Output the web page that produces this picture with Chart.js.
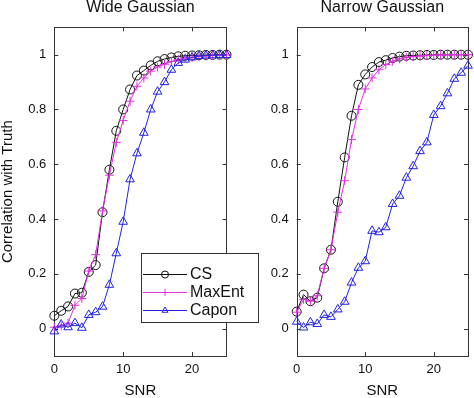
<!DOCTYPE html>
<html>
<head>
<meta charset="utf-8">
<script src="https://cdn.jsdelivr.net/npm/chart.js@4.4.0/dist/chart.umd.min.js"></script>
<style>
    html, body { margin: 0; padding: 0; background: #fff; }
    #wrap { position: relative; width: 474px; height: 398px; overflow: hidden; }
    canvas { position: absolute; top: 0; }
    #wide-chart { left: 0; }
    #narrow-chart { left: 256px; }
</style>
</head>
<body>
<div id="wrap">
    <canvas id="narrow-chart" width="218" height="398"></canvas>
    <canvas id="wide-chart" width="262" height="398"></canvas>
</div>
<script>
// SNR values (x) and axis ticks
const snr = [0, 1, 2, 3, 4, 5, 6, 7, 8, 9, 10, 11, 12, 13, 14, 15, 16, 17, 18, 19, 20, 21, 22, 23, 24, 25];
const xTicks = [0, 10, 20];
const yTicks = [0, 0.2, 0.4, 0.6, 0.8, 1];
const seriesNames = ['CS', 'MaxEnt', 'Capon'];
const panelTitles = ['Wide Gaussian', 'Narrow Gaussian'];

// Wide Gaussian
const wideCS = [0.047, 0.065, 0.081, 0.128, 0.131, 0.207, 0.232, 0.425, 0.58, 0.722, 0.80, 0.873, 0.924, 0.942, 0.961, 0.976, 0.984, 0.99, 0.994, 0.996, 0.997, 0.998, 0.999, 0.999, 1.0, 1.0];
const wideMaxEnt = [0.005, 0.01, 0.02, 0.085, 0.11, 0.21, 0.27, 0.43, 0.56, 0.68, 0.76, 0.83, 0.885, 0.915, 0.94, 0.955, 0.965, 0.975, 0.982, 0.988, 0.99, 0.993, 0.995, 0.997, 0.998, 0.999];
const wideCapon = [-0.01, 0.015, 0.005, 0.02, 0.003, 0.05, 0.06, 0.08, 0.16, 0.275, 0.39, 0.545, 0.64, 0.715, 0.80, 0.865, 0.90, 0.945, 0.97, 0.982, 0.99, 0.995, 0.997, 0.998, 0.999, 0.999];

// Narrow Gaussian
const narrowCS = [0.062, 0.124, 0.10, 0.113, 0.22, 0.288, 0.463, 0.625, 0.777, 0.89, 0.928, 0.955, 0.973, 0.98, 0.988, 0.993, 0.996, 0.997, 0.998, 0.999, 0.999, 1.0, 1.0, 1.0, 1.0, 1.0];
const narrowMaxEnt = [0.06, 0.107, 0.10, 0.12, 0.22, 0.288, 0.425, 0.54, 0.69, 0.80, 0.875, 0.915, 0.945, 0.964, 0.976, 0.985, 0.99, 0.993, 0.995, 0.997, 0.998, 0.999, 0.999, 1.0, 1.0, 1.0];
const narrowCapon = [0.025, 0.004, 0.023, 0.017, 0.05, 0.043, 0.07, 0.098, 0.168, 0.222, 0.246, 0.357, 0.352, 0.37, 0.455, 0.485, 0.551, 0.593, 0.648, 0.68, 0.78, 0.812, 0.859, 0.912, 0.934, 0.96];

const fontFamily = '"Liberation Sans", Arial, Helvetica, sans-serif';
const textColor = '#111';
const axisColor = '#333';

Chart.defaults.font.family = fontFamily;
Chart.defaults.color = textColor;

// box around the axes with inward ticks, matlab style
const frameTicks = {
    id: 'frameTicks',
    beforeDatasetsDraw(chart) {
        const { ctx, chartArea: a, scales: { x, y } } = chart;
        const len = 4;
        ctx.save();
        ctx.strokeStyle = axisColor;
        ctx.lineWidth = 1;
        ctx.beginPath();
        x.ticks.forEach(t => {
            const px = Math.round(x.getPixelForValue(t.value)) + 0.5;
            ctx.moveTo(px, a.bottom); ctx.lineTo(px, a.bottom - len);
            ctx.moveTo(px, a.top); ctx.lineTo(px, a.top + len);
        });
        y.ticks.forEach(t => {
            const py = Math.round(y.getPixelForValue(t.value)) + 0.5;
            ctx.moveTo(a.left, py); ctx.lineTo(a.left + len, py);
            ctx.moveTo(a.right, py); ctx.lineTo(a.right - len, py);
        });
        ctx.stroke();
        ctx.strokeRect(Math.round(a.left) + 0.5, Math.round(a.top) + 0.5, Math.round(a.width), Math.round(a.height));
        ctx.restore();
    }
};

const boxLegend = {
    id: 'boxLegend',
    afterDraw(chart, args, opts) {
        if (!opts.display) return;
        const ctx = chart.ctx;
        ctx.save();
        ctx.fillStyle = '#fff';
        ctx.fillRect(opts.x, opts.y, opts.width, opts.height);
        ctx.strokeStyle = axisColor;
        ctx.lineWidth = 1;
        ctx.strokeRect(opts.x + 0.5, opts.y + 0.5, opts.width, opts.height);
        chart.data.datasets.forEach((ds, i) => {
            const cy = Math.round(opts.y + opts.firstRow + i * opts.rowGap) + 0.5;
            ctx.strokeStyle = ds.borderColor;
            ctx.lineWidth = 1;
            ctx.beginPath();
            ctx.moveTo(opts.x + 2, cy);
            ctx.lineTo(opts.x + 46, cy);
            ctx.stroke();
            ctx.fillStyle = 'rgba(0,0,0,0)';
            Chart.helpers.drawPoint(ctx, { pointStyle: ds.pointStyle, radius: 3.5, borderWidth: 1, rotation: 0 }, opts.x + 24, cy);
            ctx.fillStyle = textColor;
            ctx.font = '16px ' + fontFamily;
            ctx.textBaseline = 'middle';
            ctx.fillText(ds.label, opts.x + 49, cy);
        });
        ctx.restore();
    }
};

function makeDatasets(cs, maxEnt, capon) {
    const pts = arr => snr.map((x, i) => ({ x: x, y: arr[i] }));
    return [{
        label: seriesNames[0],
        data: pts(cs),
        borderColor: '#111',
        pointBorderColor: '#111',
        pointBackgroundColor: 'rgba(0,0,0,0)',
        pointStyle: 'circle',
        pointRadius: 4.5,
        order: 3
    }, {
        label: seriesNames[1],
        data: pts(maxEnt),
        borderColor: '#e030e0',
        pointBorderColor: '#e030e0',
        pointBackgroundColor: 'rgba(0,0,0,0)',
        pointStyle: 'cross',
        pointRadius: 4.5,
        order: 2
    }, {
        label: seriesNames[2],
        data: pts(capon),
        borderColor: '#2222dd',
        pointBorderColor: '#2222dd',
        pointBackgroundColor: 'rgba(0,0,0,0)',
        pointStyle: 'triangle',
        pointRadius: 5,
        order: 1
    }].map(ds => Object.assign(ds, { borderWidth: 1, pointBorderWidth: 1, tension: 0, clip: false }));
}

function makeConfig(title, datasets, yWidth, rightPad, showYTitle, showLegend) {
    return {
        type: 'line',
        data: { datasets: datasets },
        options: {
            responsive: false,
            animation: false,
            devicePixelRatio: 1,
            layout: { padding: { left: 0, right: rightPad, top: 0, bottom: 0 } },
            scales: {
                x: {
                    type: 'linear',
                    min: 0,
                    max: 25,
                    afterBuildTicks: s => { s.ticks = xTicks.map(v => ({ value: v })); },
                    afterFit: s => { s.height = 42; },
                    grid: { display: false, drawTicks: false },
                    border: { display: false },
                    ticks: { padding: 6, color: textColor, font: { size: 13 }, callback: v => String(v) },
                    title: { display: true, text: 'SNR', padding: 0, color: textColor, font: { size: 15, lineHeight: 1 } }
                },
                y: {
                    type: 'linear',
                    min: -0.1,
                    max: 1.1,
                    afterBuildTicks: s => { s.ticks = yTicks.map(v => ({ value: v })); },
                    afterFit: s => { s.width = yWidth; },
                    grid: { display: false, drawTicks: false },
                    border: { display: false },
                    ticks: { padding: 8, color: textColor, font: { size: 13 }, callback: v => String(v) },
                    title: { display: showYTitle, text: 'Correlation with Truth', padding: 0, color: textColor, font: { size: 15, lineHeight: 1 } }
                }
            },
            plugins: {
                legend: { display: false },
                tooltip: { enabled: false },
                title: {
                    display: true,
                    text: title,
                    fullSize: false,
                    color: textColor,
                    font: { size: 16, weight: 'normal', lineHeight: 1 },
                    padding: { top: 0, bottom: 11.3 }
                },
                boxLegend: { display: showLegend, x: 141, y: 253, width: 117, height: 69, firstRow: 20.5, rowGap: 18.3 }
            }
        },
        plugins: [frameTicks, boxLegend]
    };
}

document.addEventListener('DOMContentLoaded', function() {
    const ctxWide = document.getElementById('wide-chart').getContext('2d');
    new Chart(ctxWide, makeConfig(panelTitles[0], makeDatasets(wideCS, wideMaxEnt, wideCapon), 54.3, 35.5, true, true));

    const ctxNarrow = document.getElementById('narrow-chart').getContext('2d');
    new Chart(ctxNarrow, makeConfig(panelTitles[1], makeDatasets(narrowCS, narrowMaxEnt, narrowCapon), 40.7, 5, false, false));
});
</script>
</body>
</html>
